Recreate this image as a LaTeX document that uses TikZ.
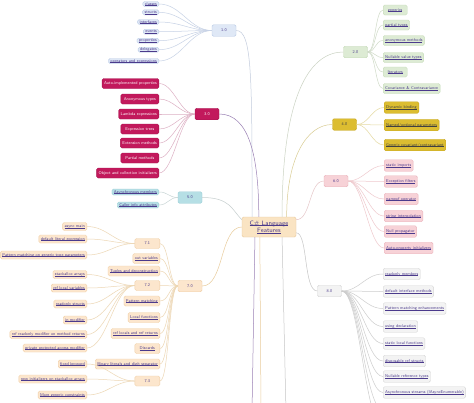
\documentclass[tikz,border=0pt]{standalone}
\usepackage{tikz}
\definecolor{txtlink}{HTML}{4B3A8C}
\definecolor{v1fill}{HTML}{DFE8F6}\definecolor{v1draw}{HTML}{B9CAE6}\definecolor{v1line}{HTML}{C7D2E6}
\definecolor{v3fill}{HTML}{C2195C}\definecolor{v3draw}{HTML}{A81550}\definecolor{v3line}{HTML}{DDB0C4}
\definecolor{v5fill}{HTML}{B6DFE5}\definecolor{v5draw}{HTML}{9CCFD7}\definecolor{v5line}{HTML}{C9D6D6}
\definecolor{v7fill}{HTML}{FCE6CD}\definecolor{v7draw}{HTML}{F0CFA6}\definecolor{v7line}{HTML}{EDD7B4}
\definecolor{rootfill}{HTML}{FAE4C3}\definecolor{rootdraw}{HTML}{E9CB9D}
\definecolor{v2fill}{HTML}{DDEBD4}\definecolor{v2draw}{HTML}{C4DAB6}\definecolor{v2line}{HTML}{D0DBC8}
\definecolor{v4fill}{HTML}{DCBD31}\definecolor{v4draw}{HTML}{C7A722}\definecolor{v4line}{HTML}{E5D9A0}
\definecolor{v6fill}{HTML}{F7D2D7}\definecolor{v6draw}{HTML}{EBB3BB}\definecolor{v6line}{HTML}{EFC9CD}
\definecolor{v8fill}{HTML}{F3F3F3}\definecolor{v8draw}{HTML}{D5D5D5}\definecolor{v8line}{HTML}{CDCDCD}
\definecolor{mpurple}{HTML}{9A80B4}\definecolor{morange}{HTML}{E9CC9C}\definecolor{mgrey}{HTML}{C6C6C6}
\definecolor{mblue}{HTML}{C3CCDD}\definecolor{mgreen}{HTML}{CBD3C3}\definecolor{mgold}{HTML}{D9CC92}
\definecolor{mpink}{HTML}{E6C6C8}\definecolor{mcyan}{HTML}{C5CECE}

% thin link underline
\newcommand{\lnk}[2][0.18pt]{\setbox0\hbox{#2}\leavevmode\rlap{\rule[-0.6pt]{\wd0}{#1}}\box0}

\tikzset{
  box/.style={draw, rounded corners=1.5pt, line width=0.4pt, inner xsep=2pt, inner ysep=0.5pt,
    text height=3pt, text depth=1pt, text=txtlink, font=\sffamily\fontsize{4.1}{4.8}\selectfont},
  verbox/.style={box, minimum width=24pt, minimum height=11.5pt},
  conn/.style={line width=0.5pt},
  root/.style={box, fill=rootfill, draw=rootdraw, align=center, minimum width=54pt, minimum height=20pt,
    text height=, text depth=, font=\sffamily\fontsize{6.3}{7.5}\selectfont},
  v1leaf/.style={box, fill=v1fill, draw=v1draw, minimum width=14pt, minimum height=5pt, anchor=east},
  v3leaf/.style={box, fill=v3fill, draw=v3draw, text=white, minimum width=38pt, minimum height=10pt, anchor=east},
  v5leaf/.style={box, fill=v5fill, draw=v5draw, minimum height=6pt, anchor=east},
  v7leaf/.style={box, fill=v7fill, draw=v7draw, minimum width=25pt, minimum height=10pt, anchor=east},
  v7sub/.style={box, fill=v7fill, draw=v7draw, minimum height=8pt, anchor=east},
  v2leaf/.style={box, fill=v2fill, draw=v2draw, minimum width=24pt, minimum height=10pt, anchor=west},
  v4leaf/.style={box, fill=v4fill, draw=v4draw, text=black!75, minimum height=11.5pt, anchor=west},
  v6leaf/.style={box, fill=v6fill, draw=v6draw, minimum height=11.5pt, anchor=west},
  v8leaf/.style={box, fill=v8fill, draw=v8draw, minimum height=11.5pt, anchor=west}
}

\begin{document}
\begin{tikzpicture}[x=1pt, y=-1pt]
  \clip (0,0) rectangle (474,402);
  \fill[white] (0,0) rectangle (474,402);

  % centre
  \node[root] (root) at (269,227) {\lnk[0.3pt]{C\# Language}\\\lnk[0.3pt]{Features}};

  % version nodes
  \node[verbox, fill=v1fill, draw=v1draw] (v1) at (224,30.5) {1.0};
  \node[verbox, fill=v3fill, draw=v3draw, text=white] (v3) at (207,114) {3.0};
  \node[verbox, fill=v5fill, draw=v5draw] (v5) at (190,197.5) {5.0};
  \node[verbox, fill=v7fill, draw=v7draw] (v7) at (190,286) {7.0};
  \node[verbox, fill=v2fill, draw=v2draw] (v2) at (355.5,52) {2.0};
  \node[verbox, fill=v4fill, draw=v4draw, text=black!75] (v4) at (344.5,124.5) {4.0};
  \node[verbox, fill=v6fill, draw=v6draw] (v6) at (336,181) {6.0};
  \node[verbox, fill=v8fill, draw=v8draw] (v8) at (329.5,291) {8.0};

  % branches from the centre
  \draw[conn, mblue] (v1.east) .. controls +(16,0) and +(0,-140) .. (root.149);
  \draw[conn, mpurple] (v3.east) .. controls +(30,0) and +(0,-60) .. (root.135);
  \draw[conn, mcyan] (v5.east) .. controls +(28,0) and +(-10,-10) .. (root.165);
  \draw[conn, morange] (v7.east) .. controls +(22,0) and +(-22,0) .. (root.west);
  \draw[conn, mgreen] (root.38) .. controls +(0,-130) and +(-30,0) .. (v2.west);
  \draw[conn, mgold] (root.30) .. controls +(0,-60) and +(-25,0) .. (v4.west);
  \draw[conn, mpink] (root.15) .. controls +(15,0) and +(-15,0) .. (v6.west);
  \draw[conn, mgrey] (root.-12) .. controls +(12,0) and +(-14,0) .. (v8.west);
  \coordinate (down1) at (252,412);
  \coordinate (down2) at (261,412);
  \coordinate (down3) at (286,412);
  \draw[conn, mpurple] (root.-144) -- (down1);
  \draw[conn, morange] (root.-132) -- (down2);
  \draw[conn, mgrey] (root.-38) -- (down3);

  % 1.0
  \foreach \y/\t [count=\i] in {4/classes, 12.3/structs, 22/interfaces, 31.7/events,
      40.7/properties, 49.7/delegates, 61/operators and expressions} {
    \node[v1leaf] (v1c\i) at (159,\y) {\lnk{\t}};
    \draw[conn, v1line] (v1.west) .. controls +(-22,0) and +(22,0) .. (v1c\i.east);
  }

  % 3.0
  \foreach \y/\t [count=\i] in {83.5/Auto-implemented properties, 99/Anonymous types,
      114/Lambda expressions, 129/Expression trees, 143/Extension methods,
      158/Partial methods, 173/Object and collection initializers} {
    \node[v3leaf] (v3c\i) at (159,\y) {\t};
    \draw[conn, v3line] (v3.west) .. controls +(-15,0) and +(15,0) .. (v3c\i.east);
  }

  % 5.0
  \foreach \y/\t [count=\i] in {192/Asynchronous members, 205/Caller info attributes} {
    \node[v5leaf] (v5c\i) at (159,\y) {\lnk{\t}};
    \draw[conn, v5line] (v5.west) .. controls +(-9,0) and +(9,0) .. (v5c\i.east);
  }

  % 7.0
  \node[verbox, v7leaf] (v71) at (160,243.5) {7.1};
  \node[verbox, v7leaf] (v72) at (160,285.5) {7.2};
  \node[verbox, v7leaf] (v73) at (160,381) {7.3};
  \foreach \n in {v71, v72, v73}
    \draw[conn, v7line] (v7.west) .. controls +(-9,0) and +(9,0) .. (\n.east);
  \foreach \y/\t [count=\i] in {258.5/out variables, 271/Tuples and deconstruction,
      301/Pattern matching, 317.5/Local functions, 333.5/ref locals and ref returns,
      348.5/Discards, 364/Binary literals and digit separator} {
    \node[v7leaf] (v7c\i) at (160,\y) {\lnk{\t}};
    \draw[conn, v7line] (v7.west) .. controls +(-9,0) and +(9,0) .. (v7c\i.east);
  }
  \foreach \y/\t [count=\i] in {226.5/async main, 239/default literal expression,
      255/Pattern matching on generic type parameters} {
    \node[v7sub] (v71c\i) at (87,\y) {\lnk{\t}};
    \draw[conn, v7line] (v71.west) .. controls +(-20,0) and +(20,0) .. (v71c\i.east);
  }
  \foreach \y/\t [count=\i] in {274.5/stackalloc arrays, 288/ref local variables,
      304/readonly structs, 320/in modifier, 334.5/ref readonly modifier on method returns,
      348/private protected access modifier} {
    \node[v7sub] (v72c\i) at (87,\y) {\lnk{\t}};
    \draw[conn, v7line] (v72.west) .. controls +(-20,0) and +(20,0) .. (v72c\i.east);
  }
  \foreach \y/\t [count=\i] in {364/fixed keyword, 379/new initializers on stackalloc arrays,
      395/More generic constraints} {
    \node[v7sub] (v73c\i) at (87,\y) {\lnk{\t}};
    \draw[conn, v7line] (v73.west) .. controls +(-20,0) and +(20,0) .. (v73c\i.east);
  }

  % 2.0
  \foreach \y/\t [count=\i] in {10/generics, 25/partial types, 40.5/anonymous methods,
      57.5/Nullable value types, 72/Iterators, 88.5/Covariance \& Contravariance} {
    \node[v2leaf] (v2c\i) at (383,\y) {\lnk{\t}};
    \draw[conn, v2line] (v2.east) .. controls +(8,0) and +(-8,0) .. (v2c\i.west);
  }

  % 4.0
  \foreach \y/\t [count=\i] in {107.5/Dynamic binding, 125/{Named/optional parameters},
      145/{Generic covariant/contravariant}} {
    \node[v4leaf] (v4c\i) at (384,\y) {\lnk{\t}};
    \draw[conn, v4line] (v4.east) .. controls +(12,0) and +(-12,0) .. (v4c\i.west);
  }

  % 6.0
  \foreach \y/\t [count=\i] in {165.5/static imports, 181.5/Exception filters,
      199/nameof operator, 216/string interpolation, 231.5/Null propagator,
      248/Auto-property initializers} {
    \node[v6leaf] (v6c\i) at (384,\y) {\lnk{\t}};
    \draw[conn, v6line] (v6.east) .. controls +(15,0) and +(-15,0) .. (v6c\i.west);
  }

  % 8.0
  \foreach \y/\t [count=\i] in {274/readonly members, 291.5/default interface methods,
      308.5/Pattern matching enhancements, 326.5/using declaration,
      343.5/static local functions, 361/disposable ref structs,
      376.5/Nullable reference types, 392.5/Asynchronous streams (IAsyncEnumerable)} {
    \node[v8leaf] (v8c\i) at (383,\y) {\lnk{\t}};
    \draw[conn, v8line] (v8.east) .. controls +(18,0) and +(-18,0) .. (v8c\i.west);
  }
  \coordinate (v8more1) at (383,410);
  \coordinate (v8more2) at (383,427);
  \draw[conn, v8line] (v8.east) .. controls +(18,0) and +(-18,0) .. (v8more1);
  \draw[conn, v8line] (v8.east) .. controls +(18,0) and +(-18,0) .. (v8more2);
\end{tikzpicture}
\end{document}
